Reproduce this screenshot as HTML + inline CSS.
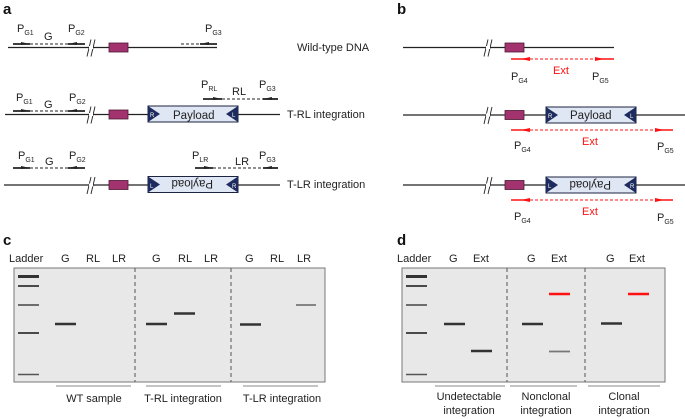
<!DOCTYPE html>
<html><head><meta charset="utf-8"><style>
body{margin:0;background:#fff}
svg{display:block;font-family:"Liberation Sans",sans-serif}
.l{font-size:11px;fill:#222}
.s{font-size:7px;fill:#222}
.b{font-size:15px;font-weight:bold;fill:#111}
.r{fill:#f11}
</style></head><body>
<svg width="685" height="419" viewBox="0 0 685 419" xmlns="http://www.w3.org/2000/svg">
<defs>
<g id="mag"><rect x="0" y="0" width="19" height="9" fill="#a3336e" stroke="#4a1a33" stroke-width="0.8"/></g>
<g id="brk"><line x1="-4" y1="9" x2="0" y2="-8" stroke="#222" stroke-width="0.9"/><line x1="0" y1="9" x2="4" y2="-8" stroke="#222" stroke-width="0.9"/><rect x="-2" y="-1.5" width="4" height="3" fill="#fff"/></g>
<g id="payR"><rect x="0" y="0" width="90" height="16" fill="#dfe6f4" stroke="#1c2440" stroke-width="1"/><polygon points="0,0 0,16 12,8" fill="#1d2b5e"/><polygon points="90,0 90,16 78,8" fill="#1d2b5e"/></g>
</defs>

<!-- Panel a -->
<text class="b" x="3" y="14">a</text>
<!-- row1 -->
<line x1="8" y1="47.5" x2="217" y2="47.5" stroke="#222" stroke-width="1.2"/>
<use href="#brk" x="91" y="47.5"/>
<use href="#mag" x="109" y="43"/>
<g stroke="#222">
<line x1="13" y1="44" x2="30" y2="44" stroke-width="1.8"/><line x1="30" y1="44" x2="68" y2="44" stroke-dasharray="3,2"/><line x1="68" y1="44" x2="85" y2="44" stroke-width="1.8"/>
<line x1="181" y1="44" x2="200" y2="44" stroke-dasharray="3,2"/><line x1="200" y1="44" x2="217" y2="44" stroke-width="1.8"/>
</g>
<polygon points="21,42 30,44 21,45" fill="#222"/><polygon points="77,42 68,44 77,45" fill="#222"/><polygon points="209,42 200,44 209,45" fill="#222"/>
<text class="l" x="17" y="32">P<tspan class="s" dy="3">G1</tspan></text>
<text class="l" x="44" y="40">G</text>
<text class="l" x="68" y="32">P<tspan class="s" dy="3">G2</tspan></text>
<text class="l" x="205" y="32">P<tspan class="s" dy="3">G3</tspan></text>
<text class="l" x="297" y="51">Wild-type DNA</text>

<!-- row2 -->
<line x1="5" y1="114.5" x2="280" y2="114.5" stroke="#222" stroke-width="1.2"/>
<use href="#brk" x="91" y="114.5"/>
<use href="#mag" x="109" y="110"/>
<use href="#payR" x="148" y="106"/>
<text class="l" x="173" y="119" style="font-size:11.5px">Payload</text>
<text x="150" y="117" style="font-size:6px;fill:#fff">R</text><text x="232" y="117" style="font-size:6px;fill:#fff">L</text>
<g stroke="#222">
<line x1="13" y1="111" x2="30" y2="111" stroke-width="1.8"/><line x1="30" y1="111" x2="68" y2="111" stroke-dasharray="3,2"/><line x1="68" y1="111" x2="85" y2="111" stroke-width="1.8"/>
<line x1="203" y1="99" x2="222" y2="99" stroke-width="1.8"/><line x1="222" y1="99" x2="263" y2="99" stroke-dasharray="3,2"/><line x1="263" y1="99" x2="278" y2="99" stroke-width="1.8"/>
</g>
<polygon points="21,109 30,111 21,112" fill="#222"/><polygon points="77,109 68,111 77,112" fill="#222"/>
<polygon points="213,97 222,99 213,100" fill="#222"/><polygon points="272,97 263,99 272,100" fill="#222"/>
<text class="l" x="16" y="101">P<tspan class="s" dy="3">G1</tspan></text>
<text class="l" x="44" y="108">G</text>
<text class="l" x="69" y="101">P<tspan class="s" dy="3">G2</tspan></text>
<text class="l" x="201" y="88">P<tspan class="s" dy="3">RL</tspan></text>
<text class="l" x="232" y="95">RL</text>
<text class="l" x="259" y="88">P<tspan class="s" dy="3">G3</tspan></text>
<text class="l" x="287" y="118">T-RL integration</text>

<!-- row3 -->
<line x1="4" y1="185" x2="280" y2="185" stroke="#222" stroke-width="1.2"/>
<use href="#brk" x="91" y="185"/>
<use href="#mag" x="109" y="180.5"/>
<use href="#payR" x="148" y="176.5"/>
<text class="l" transform="translate(213,180) rotate(180)" style="font-size:11.5px">Payload</text>
<text x="232" y="188" style="font-size:6px;fill:#fff">R</text><text x="150" y="188" style="font-size:6px;fill:#fff">L</text>
<g stroke="#222">
<line x1="13" y1="168" x2="30" y2="168" stroke-width="1.8"/><line x1="30" y1="168" x2="68" y2="168" stroke-dasharray="3,2"/><line x1="68" y1="168" x2="85" y2="168" stroke-width="1.8"/>
<line x1="195" y1="168" x2="213" y2="168" stroke-width="1.8"/><line x1="213" y1="168" x2="263" y2="168" stroke-dasharray="3,2"/><line x1="263" y1="168" x2="278" y2="168" stroke-width="1.8"/>
</g>
<polygon points="21,166 30,168 21,169" fill="#222"/><polygon points="77,166 68,168 77,169" fill="#222"/>
<polygon points="204,166 213,168 204,169" fill="#222"/><polygon points="272,166 263,168 272,169" fill="#222"/>
<text class="l" x="18" y="159">P<tspan class="s" dy="3">G1</tspan></text>
<text class="l" x="45" y="165">G</text>
<text class="l" x="69" y="159">P<tspan class="s" dy="3">G2</tspan></text>
<text class="l" x="192" y="159">P<tspan class="s" dy="3">LR</tspan></text>
<text class="l" x="235" y="165">LR</text>
<text class="l" x="259" y="159">P<tspan class="s" dy="3">G3</tspan></text>
<text class="l" x="287" y="188">T-LR integration</text>

<!-- Panel b -->
<text class="b" x="397" y="14">b</text>
<line x1="403" y1="47.5" x2="614" y2="47.5" stroke="#222" stroke-width="1.2"/>
<use href="#brk" x="488" y="47.5"/>
<use href="#mag" x="505" y="43"/>
<g stroke="#f11">
<line x1="511" y1="59" x2="530" y2="59" stroke-width="1.6"/><line x1="530" y1="59" x2="595" y2="59" stroke-dasharray="3,2"/><line x1="595" y1="59" x2="614" y2="59" stroke-width="1.6"/>
</g>
<polygon points="530,57 521,59 530,61" fill="#f11"/><polygon points="595,57 604,59 595,61" fill="#f11"/>
<text class="l r" x="553" y="74">Ext</text>
<text class="l" x="511" y="80">P<tspan class="s" dy="3">G4</tspan></text>
<text class="l" x="592" y="80">P<tspan class="s" dy="3">G5</tspan></text>

<line x1="403" y1="115" x2="685" y2="115" stroke="#222" stroke-width="1.2"/>
<use href="#brk" x="488" y="115"/>
<use href="#mag" x="505" y="110.5"/>
<use href="#payR" x="546" y="107"/>
<text class="l" x="570" y="119" style="font-size:11.5px">Payload</text>
<text x="548" y="118" style="font-size:6px;fill:#fff">R</text><text x="630" y="118" style="font-size:6px;fill:#fff">L</text>
<g stroke="#f11">
<line x1="511" y1="130" x2="530" y2="130" stroke-width="1.6"/><line x1="530" y1="130" x2="655" y2="130" stroke-dasharray="3,2"/><line x1="655" y1="130" x2="673" y2="130" stroke-width="1.6"/>
</g>
<polygon points="530,128 521,130 530,132" fill="#f11"/><polygon points="655,128 664,130 655,132" fill="#f11"/>
<text class="l r" x="582" y="145">Ext</text>
<text class="l" x="514" y="149">P<tspan class="s" dy="3">G4</tspan></text>
<text class="l" x="657" y="150">P<tspan class="s" dy="3">G5</tspan></text>

<line x1="403" y1="185" x2="685" y2="185" stroke="#222" stroke-width="1.2"/>
<use href="#brk" x="488" y="185"/>
<use href="#mag" x="505" y="180.5"/>
<use href="#payR" x="546" y="177"/>
<text class="l" transform="translate(611,181) rotate(180)" style="font-size:11.5px">Payload</text>
<text x="630" y="188" style="font-size:6px;fill:#fff">R</text><text x="548" y="188" style="font-size:6px;fill:#fff">L</text>
<g stroke="#f11">
<line x1="511" y1="200" x2="530" y2="200" stroke-width="1.6"/><line x1="530" y1="200" x2="655" y2="200" stroke-dasharray="3,2"/><line x1="655" y1="200" x2="673" y2="200" stroke-width="1.6"/>
</g>
<polygon points="530,198 521,200 530,202" fill="#f11"/><polygon points="655,198 664,200 655,202" fill="#f11"/>
<text class="l r" x="582" y="215">Ext</text>
<text class="l" x="514" y="220">P<tspan class="s" dy="3">G4</tspan></text>
<text class="l" x="657" y="221">P<tspan class="s" dy="3">G5</tspan></text>

<!-- Panel c -->
<text class="b" x="3" y="245">c</text>
<g class="l"><text x="9" y="262">Ladder</text><text x="61" y="262">G</text><text x="86" y="262">RL</text><text x="112" y="262">LR</text>
<text x="152" y="262">G</text><text x="178" y="262">RL</text><text x="204" y="262">LR</text>
<text x="245" y="262">G</text><text x="270" y="262">RL</text><text x="297" y="262">LR</text></g>
<rect x="14" y="268" width="311" height="114" fill="#e8e8e8" stroke="#777" stroke-width="1"/>
<g stroke="#555" stroke-dasharray="4,3"><line x1="135" y1="268" x2="135" y2="382"/><line x1="231" y1="268" x2="231" y2="382"/></g>
<g stroke="#333">
<line x1="18" y1="276.5" x2="39" y2="276.5" stroke-width="3"/>
<line x1="18" y1="286" x2="39" y2="286" stroke-width="1.8"/>
<line x1="18" y1="305" x2="39" y2="305" stroke-width="1.6" stroke="#444"/>
<line x1="18" y1="333" x2="39" y2="333" stroke-width="1.8"/>
<line x1="18" y1="374.5" x2="39" y2="374.5" stroke-width="1.6" stroke="#555"/>
<line x1="55" y1="324" x2="76" y2="324" stroke-width="2.4"/>
<line x1="146" y1="324" x2="167" y2="324" stroke-width="2.4"/>
<line x1="174" y1="313.5" x2="195" y2="313.5" stroke-width="2.4"/>
<line x1="240" y1="324.5" x2="261" y2="324.5" stroke-width="2.4"/>
<line x1="296" y1="305" x2="316" y2="305" stroke-width="1.8" stroke="#777"/>
</g>
<g stroke="#888" stroke-width="1"><line x1="56" y1="386" x2="131" y2="386"/><line x1="146" y1="386" x2="221" y2="386"/><line x1="243" y1="386" x2="318" y2="386"/></g>
<g class="l" text-anchor="middle"><text x="94" y="402">WT sample</text><text x="183" y="402">T-RL integration</text><text x="282" y="402">T-LR integration</text></g>

<!-- Panel d -->
<text class="b" x="397" y="245">d</text>
<g class="l"><text x="397" y="262">Ladder</text><text x="449" y="262">G</text><text x="473" y="262">Ext</text>
<text x="527" y="262">G</text><text x="551" y="262">Ext</text><text x="606" y="262">G</text><text x="629" y="262">Ext</text></g>
<rect x="402" y="268" width="263" height="114" fill="#e8e8e8" stroke="#777" stroke-width="1"/>
<g stroke="#555" stroke-dasharray="4,3"><line x1="507" y1="268" x2="507" y2="382"/><line x1="585" y1="268" x2="585" y2="382"/></g>
<g stroke="#333">
<line x1="406" y1="276.5" x2="427" y2="276.5" stroke-width="3"/>
<line x1="406" y1="286" x2="427" y2="286" stroke-width="1.8"/>
<line x1="406" y1="305" x2="427" y2="305" stroke-width="1.6" stroke="#444"/>
<line x1="406" y1="333" x2="427" y2="333" stroke-width="1.8"/>
<line x1="406" y1="374.5" x2="427" y2="374.5" stroke-width="1.6" stroke="#555"/>
<line x1="444" y1="324" x2="465" y2="324" stroke-width="2.4"/>
<line x1="471" y1="351" x2="492" y2="351" stroke-width="2.4"/>
<line x1="522" y1="324" x2="543" y2="324" stroke-width="2.4"/>
<line x1="549" y1="351.5" x2="570" y2="351.5" stroke-width="1.8" stroke="#777"/>
<line x1="601" y1="323.5" x2="622" y2="323.5" stroke-width="2.4"/>
<line x1="549" y1="294" x2="570" y2="294" stroke-width="2.6" stroke="#f11"/>
<line x1="628" y1="294" x2="649" y2="294" stroke-width="2.6" stroke="#f11"/>
</g>
<g stroke="#888" stroke-width="1"><line x1="435" y1="386" x2="505" y2="386"/><line x1="510" y1="386" x2="577" y2="386"/><line x1="588" y1="386" x2="660" y2="386"/></g>
<g class="l" text-anchor="middle"><text x="469" y="400">Undetectable</text><text x="469" y="414">integration</text>
<text x="546" y="400">Nonclonal</text><text x="546" y="414">integration</text>
<text x="624" y="400">Clonal</text><text x="624" y="414">integration</text></g>
</svg>
</body></html>
